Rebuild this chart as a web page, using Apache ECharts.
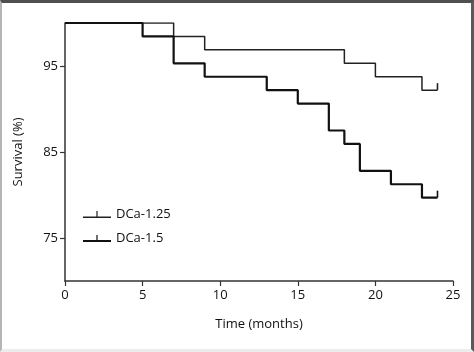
<!DOCTYPE html>
<html>
<head>
<meta charset="utf-8">
<script src="https://cdn.jsdelivr.net/npm/echarts@6/dist/echarts.min.js"></script>
<style>
  html, body { margin: 0; padding: 0; background: #fff; }
  #chart { width: 474px; height: 352px; }
  .frame {
    position: absolute; left: 0; top: 0; width: 474px; height: 352px;
    box-sizing: border-box; pointer-events: none;
    border-top: 3px solid #4f4f4f;
    border-left: 2px solid #b5b5b5;
    border-right: 3px solid #5a5a5a;
    border-bottom: 3px solid #ececec;
  }
</style>
</head>
<body>
<div id="chart"></div>
<div class="frame"></div>
<script>
// Kaplan-Meier steps: [time (months), survival (%)]
const seriesNames = ['DCa-1.25', 'DCa-1.5']
const dca125 = [[0, 100], [7, 98.44], [9, 96.88], [18, 95.31], [20, 93.75], [23, 92.19], [24, 92.19]]
const dca15 = [[0, 100], [5, 98.44], [7, 95.31], [9, 93.75], [13, 92.19], [15, 90.63], [17, 87.5],
  [18, 85.94], [19, 82.81], [21, 81.25], [23, 79.69], [24, 79.69]]
const yTicks = [75, 85, 95]

const censorMark = 'path://M0,0 L1,0 L1,1 L0,1 Z'

function withCensor (data) {
  // last point is censored -> small vertical tick
  return data.map((p, i) => {
    if (i !== data.length - 1) return p
    return { value: p, symbol: censorMark, symbolSize: [1.6, 7], symbolOffset: [0, -3.5] }
  })
}

const chart = echarts.init(document.getElementById('chart'))
const font = '"Open Sans", "Noto Sans", sans-serif'
const option = {
  animation: false,
  textStyle: { fontFamily: font },
  grid: { left: 65, right: 21, top: 23, bottom: 71 },
  legend: {
    orient: 'vertical',
    left: 78,
    top: 203,
    itemWidth: 28,
    itemHeight: 7,
    itemGap: 11,
    textStyle: { fontSize: 13, color: '#111', fontFamily: font },
    itemStyle: { borderWidth: 0 },
    data: [
      { name: seriesNames[0], icon: 'path://M0,5.6 L28,5.6 L28,7 L0,7 Z M13.4,0 L14.6,0 L14.6,6 L13.4,6 Z' },
      { name: seriesNames[1], icon: 'path://M0,5 L28,5 L28,7 L0,7 Z M13.4,0 L14.6,0 L14.6,5 L13.4,5 Z' }
    ]
  },
  xAxis: {
    type: 'value',
    min: 0,
    max: 25,
    interval: 5,
    name: 'Time (months)',
    nameLocation: 'middle',
    nameGap: 37,
    nameTextStyle: { fontSize: 13, color: '#111' },
    axisLine: { lineStyle: { color: '#333', width: 1.5 } },
    axisTick: { length: 5, lineStyle: { color: '#333', width: 1.2 } },
    axisLabel: { fontSize: 13, color: '#111', margin: 8 },
    splitLine: { show: false }
  },
  yAxis: {
    type: 'value',
    min: 70,
    max: 100,
    name: 'Survival (%)',
    nameLocation: 'middle',
    nameGap: 40,
    nameTextStyle: { fontSize: 13, color: '#111' },
    axisLine: { show: true, lineStyle: { color: '#333', width: 1.5 } },
    axisTick: { show: true, length: 5, customValues: yTicks, lineStyle: { color: '#333', width: 1.2 } },
    axisLabel: { fontSize: 13, color: '#111', margin: 7, customValues: yTicks },
    splitLine: { show: false }
  },
  series: [
    {
      name: seriesNames[0],
      type: 'line',
      step: 'end',
      symbol: 'none',
      data: withCensor(dca125),
      itemStyle: { color: '#222' },
      lineStyle: { color: '#222', width: 1.5 }
    },
    {
      name: seriesNames[1],
      type: 'line',
      step: 'end',
      symbol: 'none',
      data: withCensor(dca15),
      itemStyle: { color: '#111' },
      lineStyle: { color: '#111', width: 2.2 }
    }
  ]
}
chart.setOption(option)
</script>
</body>
</html>
